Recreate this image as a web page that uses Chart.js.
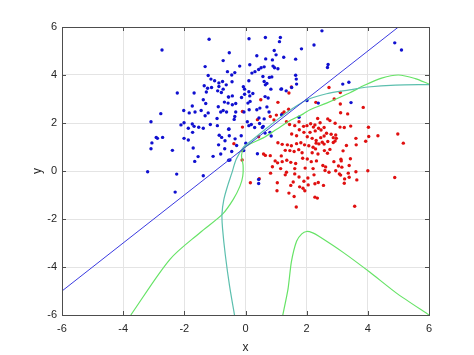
<!DOCTYPE html>
<html>
<head>
<meta charset="utf-8">
<script src="https://cdn.jsdelivr.net/npm/chart.js@4/dist/chart.umd.min.js"></script>
<style>
html,body{margin:0;padding:0;background:#fff;}
#wrap{width:474px;height:355px;}
</style>
</head>
<body>
<div id="wrap"><canvas id="c" width="474" height="355"></canvas></div>
<script>
// ---- Data ----
const xTicks = [-6, -4, -2, 0, 2, 4, 6];
const yTicks = [-6, -4, -2, 0, 2, 4, 6];

const bluePts = [
[-1.19,5.49],[-2.73,5.04],[-0.73,4.6],[-0.53,4.93],[-1.32,4.35],[-0.59,4.14],[-1.22,3.98],[-1.13,3.83],
[-1.01,3.76],[-0.87,3.67],[-0.75,3.73],[-0.63,3.59],[-1.35,3.55],[-1.24,3.45],[-1.11,3.48],[-0.87,3.52],
[-0.73,3.41],[-1.28,3.29],[-0.91,3.34],[-0.79,3.27],[-2.23,3.25],[-1.68,3.25],[-0.55,3.08],[-1.38,2.97],
[-1.30,2.81],[-0.69,2.87],[-0.57,2.83],[-1.74,2.71],[-0.89,2.68],[-2.02,2.52],[-0.73,2.52],[-0.62,2.46],
[-0.81,2.46],[-1.45,2.52],[-1.65,2.46],[-1.84,2.42],[-2.77,2.39],[-1.22,2.42],
[0.115,5.51],[0.65,5.56],[1.14,5.56],[1.11,5.39],[1.83,5.09],[2.24,5.25],[0.94,5.02],[1.0,4.84],
[0.37,4.8],[0.88,4.63],[1.25,4.74],[1.64,4.66],[0.66,4.67],[-0.19,4.37],[0.14,4.43],[0.51,4.3],
[0.43,4.23],[0.61,4.34],[0.9,4.37],[0.95,4.3],[1.06,4.26],[0.31,4.14],[-0.35,4.1],[-0.45,4.0],
[0.21,4.08],[0.57,3.94],[0.78,3.9],[0.86,3.92],[1.64,3.99],[1.66,3.83],[0.61,3.73],[0.7,3.65],
[0.65,3.59],[0.11,3.76],[-0.44,3.72],[1.67,3.62],[-0.07,3.51],[-0.03,3.41],[0.83,3.41],[1.16,3.41],
[1.33,3.34],[0.11,3.3],[0.24,3.23],[-0.03,3.2],[0.14,3.13],[-0.43,3.13],[-0.56,3.09],[-0.13,3.06],
[0.74,3.04],[-0.32,2.81],[-0.43,2.76],[0.08,2.83],[0.15,2.9],[0.47,2.62],[0.7,2.67],[0.12,2.55],
[-0.05,2.46],[0.77,2.46],[-0.32,2.46],
[2.5,5.84],[2.7,4.44],[2.68,4.31],[3.18,3.62],[3.38,3.7],[4.88,5.34],[5.1,5.04],[3.45,2.85],
[1.75,2.24],[0.84,1.46],[0.39,0.72],[2.01,2.94],[2.38,2.83],
[-1.32,2.3],[-0.93,2.19],[-3.09,2.05],[-2.11,1.92],[-2.01,2.01],[-1.74,1.96],[-1.68,1.86],[-1.53,1.82],
[-1.38,1.78],[-1.15,1.94],[-0.92,1.89],[-0.55,1.74],[-1.87,1.78],[-1.73,1.61],[-2.92,1.4],[-2.88,1.36],
[-2.71,1.4],[-2.01,1.36],[-1.87,1.29],[-0.86,1.49],[-0.78,1.4],[-0.67,1.26],[-3.06,1.17],[-3.09,0.93],
[-2.39,0.86],[-1.71,0.96],[-0.88,1.09],[-0.68,0.93],[-1.55,0.6],[-1.06,0.61],[-0.81,0.71],[-1.66,0.4],
[-0.55,0.45],[-3.2,-0.03],[-2.25,-0.13],[-1.38,-0.2],[-2.3,-0.88],
[-0.35,2.27],[-0.37,2.15],[0.06,2.05],[0.19,1.94],[0.11,1.89],[0.3,1.81],[0.46,1.98],[0.55,1.81],
[0.61,2.17],[0.8,1.61],[0.64,1.58],[-0.54,1.75],[-0.14,1.47],[-0.53,1.47],[-0.34,1.34],[0.01,1.16],
[-0.29,1.06],[-0.06,0.85],[-0.51,0.46],[-0.45,0.81],[0.43,-0.35],[0.43,-0.52],[0.44,2.21],
[1.18,3.42],[1.51,3.48],[0.64,3.1],[0.37,2.55],[1.18,2.34],[0.58,1.86]
];

const redPts = [
[1.5,3.5],[1.42,3.25],[0.5,2.97],[1.06,2.86],[1.26,2.46],[1.41,2.57],[2.73,3.48],[3.1,3.27],
[2.9,3.0],[3.1,2.79],[3.85,2.65],[3.11,2.43],[3.34,2.38],[2.3,2.86],
[2.36,2.19],[2.69,2.17],[2.76,2.1],[2.93,1.99],[2.44,2.01],[2.27,1.92],[3.23,1.81],[3.09,1.83],
[3.44,1.87],[4.02,1.82],[2.39,1.78],[2.47,1.71],[2.57,1.81],[2.65,1.57],[2.8,1.53],[2.95,1.5],
[2.97,1.36],[2.87,1.39],[2.46,1.39],[2.57,1.46],[3.61,1.36],[4.03,1.44],[4.33,1.47],[4.98,1.54],
[2.31,1.16],[2.4,1.13],[2.51,1.2],[2.57,1.12],[2.69,1.23],[2.87,1.19],[2.93,1.25],[3.3,1.06],
[3.62,1.09],[3.93,1.24],[5.16,1.16],[2.29,0.92],[2.37,0.71],[2.58,0.85],[2.68,0.74],[2.76,0.9],
[3.19,0.84],[2.89,0.39],[3.12,0.49],[3.13,0.42],[3.43,0.51],[3.39,0.23],[2.53,0.23],[2.62,0.17],
[2.6,0.02],[2.73,-0.05],[2.95,0.01],[3.04,0.21],[3.15,0.16],[3.07,-0.12],[3.11,-0.17],[3.36,-0.09],
[3.61,-0.03],[4.0,0.01],[4.88,-0.27],[3.39,-0.26],[3.24,-0.33],[3.64,-0.37],[3.23,-0.51],[2.38,-0.48],
[2.27,-0.53],[2.55,-0.6],[2.27,-1.09],[3.57,-1.47],
[0.81,2.27],[1.01,2.33],[1.2,2.39],[0.93,2.13],[1.34,2.05],[1.44,1.94],[1.61,1.89],[1.75,2.05],
[1.9,1.86],[2.01,1.89],[2.13,1.97],[2.22,1.83],[2.28,1.67],[1.76,1.72],[1.91,1.61],[2.11,1.61],
[1.51,1.54],[1.67,1.47],[2.02,1.43],[2.18,1.36],[2.31,1.27],[1.06,1.18],[1.2,1.11],[1.37,1.09],
[1.5,1.05],[1.67,1.14],[1.81,1.18],[1.93,1.09],[2.07,1.05],[2.21,0.99],[1.3,0.86],[1.45,0.85],
[1.59,0.81],[1.74,0.89],[1.85,0.76],[2.18,0.76],[0.59,0.71],[0.65,0.65],[0.81,0.64],[1.17,0.63],
[0.97,0.42],[1.05,0.34],[1.2,0.39],[1.35,0.45],[1.48,0.36],[1.64,0.31],[1.87,0.53],[2.02,0.5],
[2.15,0.39],[2.32,0.42],[0.88,0.18],[1.15,0.1],[1.61,0.1],[1.95,0.12],[2.21,0.1],[0.82,-0.09],
[1.34,-0.05],[1.3,-0.16],[1.61,-0.12],[1.75,-0.25],[2.04,-0.29],[2.24,-0.16],[0.45,-0.32],[0.16,-0.49],
[1.04,-0.49],[1.56,-0.46],[1.91,-0.43],[1.48,-0.6],[1.77,-0.66],[1.88,-0.72],[2.05,-0.58],[1.03,-0.82],
[1.42,-0.92],[1.94,-0.82],[1.59,-1.06],[1.66,-1.5],[2.35,-1.13],
[-0.11,0.46],[-0.38,1.14],[0.39,2.14],[0.43,1.43],[-0.1,2.48],[-0.1,1.83],[-0.1,0.85]
];

// Linear boundary (blue line)
const linePts = [[-6,-5],[5,6]];
// Teal curve
const tealPts = [[-0.36,-6],[-0.52,-4.8],[-0.66,-3.5],[-0.75,-2.4],[-0.77,-1.8],[-0.71,-1.2],[-0.58,-0.6],
  [-0.45,-0.1],[-0.3,0.5],[-0.06,1.0],[0.2,1.27],[0.5,1.58],[1.02,2.12],[1.56,2.62],[2.0,2.96],
  [2.65,3.22],[3.4,3.38],[4.0,3.5],[4.9,3.58],[6,3.6]];
// Upper green curve
const green1Pts = [[-3.75,-6],[-2.47,-3.68],[-1.49,-2.57],[-0.76,-1.81],[-0.4,-1.18],[-0.18,-0.63],
  [-0.09,-0.22],[-0.08,0.25],[-0.13,0.65],[-0.05,0.95],[0.15,1.13],[0.58,1.38],[1.02,1.74],[1.46,2.1],
  [1.89,2.38],[2.11,2.55],[2.65,2.83],[3.4,3.25],[3.9,3.58],[4.45,3.87],[5.0,4.0],[5.55,3.85],[6,3.62]];
// Lower green curve
const green2Pts = [[1.22,-6],[1.39,-4.92],[1.5,-3.79],[1.67,-2.93],[1.84,-2.62],[2.0,-2.52],[2.2,-2.58],
  [2.4,-2.72],[3.18,-3.38],[4.07,-4.22],[4.97,-5.12],[6,-6]];

const toXY = a => a.map(p => ({x: p[0], y: p[1]}));
const FONT = '"Liberation Sans", Arial, Helvetica, sans-serif';

const boxPlugin = {
  id: 'box',
  afterDraw(chart) {
    const {ctx, chartArea: a, scales} = chart;
    ctx.save();
    ctx.strokeStyle = '#4d4d4d';
    ctx.lineWidth = 1;
    ctx.beginPath();
    const tl = 4;
    xTicks.forEach(v => {
      const px = Math.round(scales.x.getPixelForValue(v)) + 0.5;
      ctx.moveTo(px, a.bottom); ctx.lineTo(px, a.bottom - tl);
      ctx.moveTo(px, a.top); ctx.lineTo(px, a.top + tl);
    });
    yTicks.forEach(v => {
      const py = Math.round(scales.y.getPixelForValue(v)) + 0.5;
      ctx.moveTo(a.left, py); ctx.lineTo(a.left + tl, py);
      ctx.moveTo(a.right, py); ctx.lineTo(a.right - tl, py);
    });
    ctx.stroke();
    ctx.strokeRect(Math.round(a.left) + 0.5, Math.round(a.top) + 0.5,
                   Math.round(a.right - a.left), Math.round(a.bottom - a.top));
    ctx.restore();
  }
};

new Chart(document.getElementById('c'), {
  type: 'scatter',
  data: {
    datasets: [
      {data: toXY(linePts), showLine: true, borderColor: '#3a3ae0', borderWidth: 1, pointRadius: 0, order: 1},
      {data: toXY(tealPts), showLine: true, borderColor: '#5cbfae', borderWidth: 1.2, pointRadius: 0, tension: 0.3, order: 1},
      {data: toXY(green1Pts), showLine: true, borderColor: '#66e366', borderWidth: 1.2, pointRadius: 0, tension: 0.3, order: 1},
      {data: toXY(green2Pts), showLine: true, borderColor: '#66e366', borderWidth: 1.2, pointRadius: 0, tension: 0.2, order: 1},
      {data: toXY(bluePts), backgroundColor: '#1010d0', borderWidth: 0, pointRadius: 1.7, order: 2},
      {data: toXY(redPts), backgroundColor: '#e01010', borderWidth: 0, pointRadius: 1.7, order: 2}
    ]
  },
  options: {
    responsive: false,
    animation: false,
    events: [],
    layout: {padding: {left: 0, right: 45, top: 27, bottom: 0}},
    plugins: {legend: {display: false}, tooltip: {enabled: false}},
    scales: {
      x: {
        type: 'linear', min: -6, max: 6,
        afterBuildTicks: s => { s.ticks = xTicks.map(v => ({value: v})); },
        afterFit: s => { s.height = 40; },
        ticks: {font: {family: FONT, size: 11}, color: '#262626', padding: 7, maxRotation: 0},
        grid: {color: '#e4e4e4', drawTicks: false},
        border: {display: false},
        title: {display: true, text: 'x', font: {family: FONT, size: 12}, color: '#262626', padding: {top: 4, bottom: 0}}
      },
      y: {
        type: 'linear', min: -6, max: 6,
        afterBuildTicks: s => { s.ticks = yTicks.map(v => ({value: v})); },
        afterFit: s => { s.width = 62; },
        ticks: {font: {family: FONT, size: 11}, color: '#262626', padding: 5},
        grid: {color: '#e4e4e4', drawTicks: false},
        border: {display: false},
        title: {display: true, text: 'y', font: {family: FONT, size: 12}, color: '#262626', padding: {top: 30, bottom: 0}}
      }
    }
  },
  plugins: [boxPlugin]
});
</script>
</body>
</html>
